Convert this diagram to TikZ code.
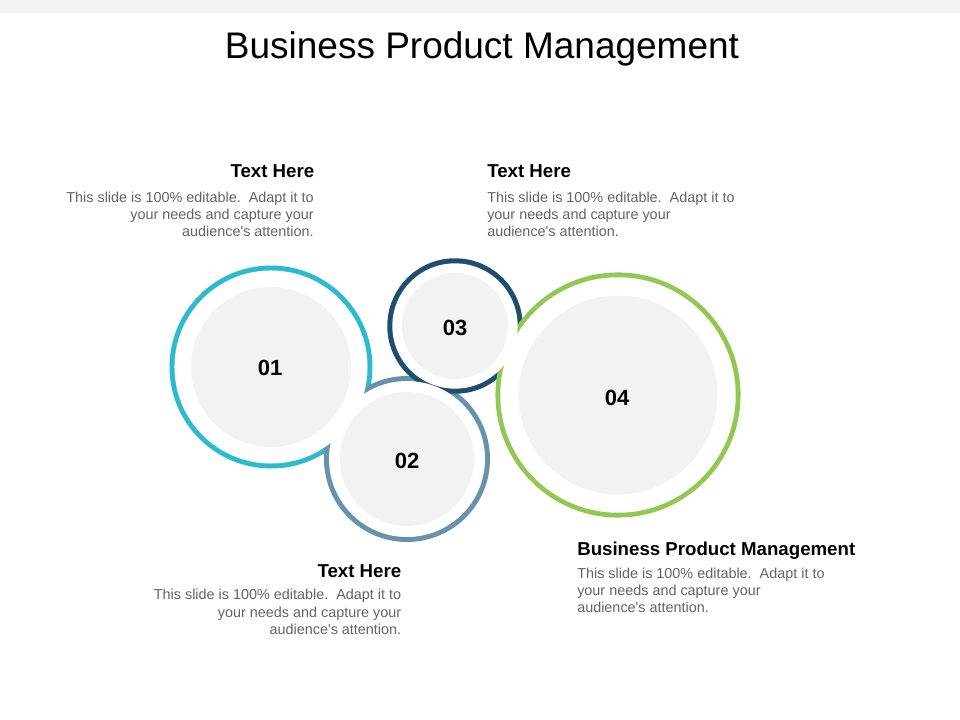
\documentclass[tikz,border=0pt]{standalone}
\usepackage{fontspec}
\setmainfont{Liberation Sans}
\definecolor{ringA}{HTML}{2CBACC}
\definecolor{ringB}{HTML}{6693AA}
\definecolor{ringC}{HTML}{1C4F6C}
\definecolor{ringD}{HTML}{92C852}
\definecolor{disc}{HTML}{F2F2F2}
\definecolor{band}{HTML}{F2F2F2}
\definecolor{bodytxt}{HTML}{636363}
\newcommand{\bodytext}{This slide is 100\% editable.\ \ Adapt it to\\your needs and capture your\\audience\textquotesingle s attention.}
\begin{document}
\begin{tikzpicture}[x=0.75pt,y=-0.75pt,
  head/.style={font=\fontsize{14pt}{16pt}\selectfont\bfseries, inner sep=0},
  body/.style={font=\fontsize{10.8pt}{13pt}\selectfont, text=bodytxt, inner sep=0},
  num/.style={font=\fontsize{16.5pt}{18pt}\selectfont\bfseries, inner sep=0}]
\useasboundingbox (0,0) rectangle (960,720);
\fill[white] (0,0) rectangle (960,720);
\fill[band] (0,0) rectangle (960,13);
\node[font=\fontsize{27.75pt}{32pt}\selectfont, anchor=base, inner sep=0] (title) at (482,59) {Business Product Management};

\coordinate (c1) at (271,367);
\coordinate (c2) at (407,459);
\coordinate (c3) at (455,326);
\coordinate (c4) at (618,395);

% coloured discs (rings form the outline of the union)
\fill[ringA] (c1) circle[radius=76.1pt];
\fill[ringB] (c2) circle[radius=62.25pt];
\fill[ringC] (c3) circle[radius=50.8pt];
\fill[ringD] (c4) circle[radius=91.9pt];
% white discs
\fill[white] (c1) circle[radius=72.4pt];
\fill[white] (c2) circle[radius=58.5pt];
\fill[white] (c3) circle[radius=47pt];
\fill[white] (c4) circle[radius=88.3pt];
% grey discs
\fill[disc] (c1) circle[radius=60pt];
\fill[disc] (c2) circle[radius=50.25pt];
\fill[disc] (c3) circle[radius=39.75pt];
\fill[disc] (c4) circle[radius=74.6pt];

\node[num] (n1) at (270,368) {01};
\node[num] (n2) at (407,461) {02};
\node[num] (n3) at (455,328) {03};
\node[num] (n4) at (617,398) {04};

% text blocks
\node[head, anchor=base east] (h1) at (314.5,178) {Text Here};
\node[body, anchor=north east, align=right] (b1) at (314,191.5) {\bodytext};

\node[head, anchor=base west] (h3) at (487,178) {Text Here};
\node[body, anchor=north west, align=left] (b3) at (487,191.5) {\bodytext};

\node[head, anchor=base east] (h2) at (401.5,577) {Text Here};
\node[body, anchor=north east, align=right] (b2) at (401.5,589) {\bodytext};

\node[head, anchor=base west] (h4) at (577,555) {Business Product Management};
\node[body, anchor=north west, align=left] (b4) at (577,567.5) {\bodytext};
\end{tikzpicture}
\end{document}
